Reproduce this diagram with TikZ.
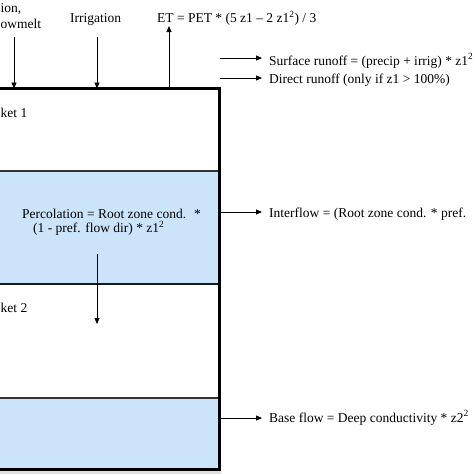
\documentclass[tikz,border=0pt]{standalone}
\usepackage{fontspec}
\setmainfont{Liberation Serif}
\usetikzlibrary{arrows.meta}
\definecolor{bandblue}{RGB}{204,228,250}
\begin{document}
\begin{tikzpicture}[x=1pt,y=-1pt,
  lbl/.style={inner sep=0pt, font=\fontsize{13.5}{16}\selectfont, anchor=base west},
  flow/.style={-{Triangle[length=6pt,width=5pt]}, line width=0.8pt},
  frame/.style={line width=3pt},
  divider/.style={line width=1.6pt, draw=black!80}]
\useasboundingbox (0,0) rectangle (474,474);
\clip (0,0) rectangle (474,474);
% bucket bands
\fill[black!12] (-10,469) rectangle (221,474);
\fill[white] (-10,88) rectangle (219.5,469);
\fill[bandblue] (-10,171) rectangle (219.5,284);
\fill[bandblue] (-10,398) rectangle (219.5,469);
\draw[divider] (-10,171) -- (219.5,171);
\draw[divider, line width=2pt, draw=black!90] (-10,284) -- (219.5,284);
\draw[divider] (-10,398) -- (219.5,398);
\draw[frame] (-10,88) -- (219.5,88) -- (219.5,469) -- (-10,469);
% texts
\node[lbl] (precipA) at (0.5,12) {ion,};
\node[lbl] (precipB) at (0.5,28) {owmelt};
\node[lbl] (irr) at (70,22.5) {Irrigation};
\node[lbl] (et) at (157,22.5) {ET = PET * (5 z1 -- 2 z1\textsuperscript{2}) / 3};
\node[lbl] (surf) at (269,65) {Surface runoff = (precip + irrig) * z1\textsuperscript{2}};
\node[lbl] (direct) at (269,83) {Direct runoff (only if z1 > 100\%)};
\node[lbl] (b1) at (0.5,117) {ket 1};
\node[lbl] (percA) at (22,218) {Percolation = Root zone cond. ~*};
\node[lbl] (percB) at (33,232.5) {(1 - pref. flow dir) * z1\textsuperscript{2}};
\node[lbl] (inter) at (269,217) {Interflow = (Root zone cond. * pref.};
\node[lbl] (b2) at (0.5,312) {ket 2};
\node[lbl] (base) at (269,422) {Base flow = Deep conductivity * z2\textsuperscript{2}};
% connector end points
\coordinate (pTop) at (14,37);   \coordinate (pIn) at (14,88.5);
\coordinate (iTop) at (97,37);   \coordinate (iIn) at (97,88.5);
\coordinate (eOut) at (169,88);  \coordinate (eTop) at (169,26);
\coordinate (sA) at (220,58);    \coordinate (sB) at (262,58);
\coordinate (dA) at (220,78);    \coordinate (dB) at (262,78);
\coordinate (fA) at (221,212);   \coordinate (fB) at (262,212);
\coordinate (kA) at (97,254);    \coordinate (kB) at (97,324);
\coordinate (gA) at (221,418);   \coordinate (gB) at (262,418);
\draw[flow] (pTop) -- (pIn);
\draw[flow] (iTop) -- (iIn);
\draw[flow] (eOut) -- (eTop);
\draw[flow] (sA) -- (sB);
\draw[flow] (dA) -- (dB);
\draw[flow] (fA) -- (fB);
\draw[flow] (kA) -- (kB);
\draw[flow] (gA) -- (gB);
\end{tikzpicture}
\end{document}
